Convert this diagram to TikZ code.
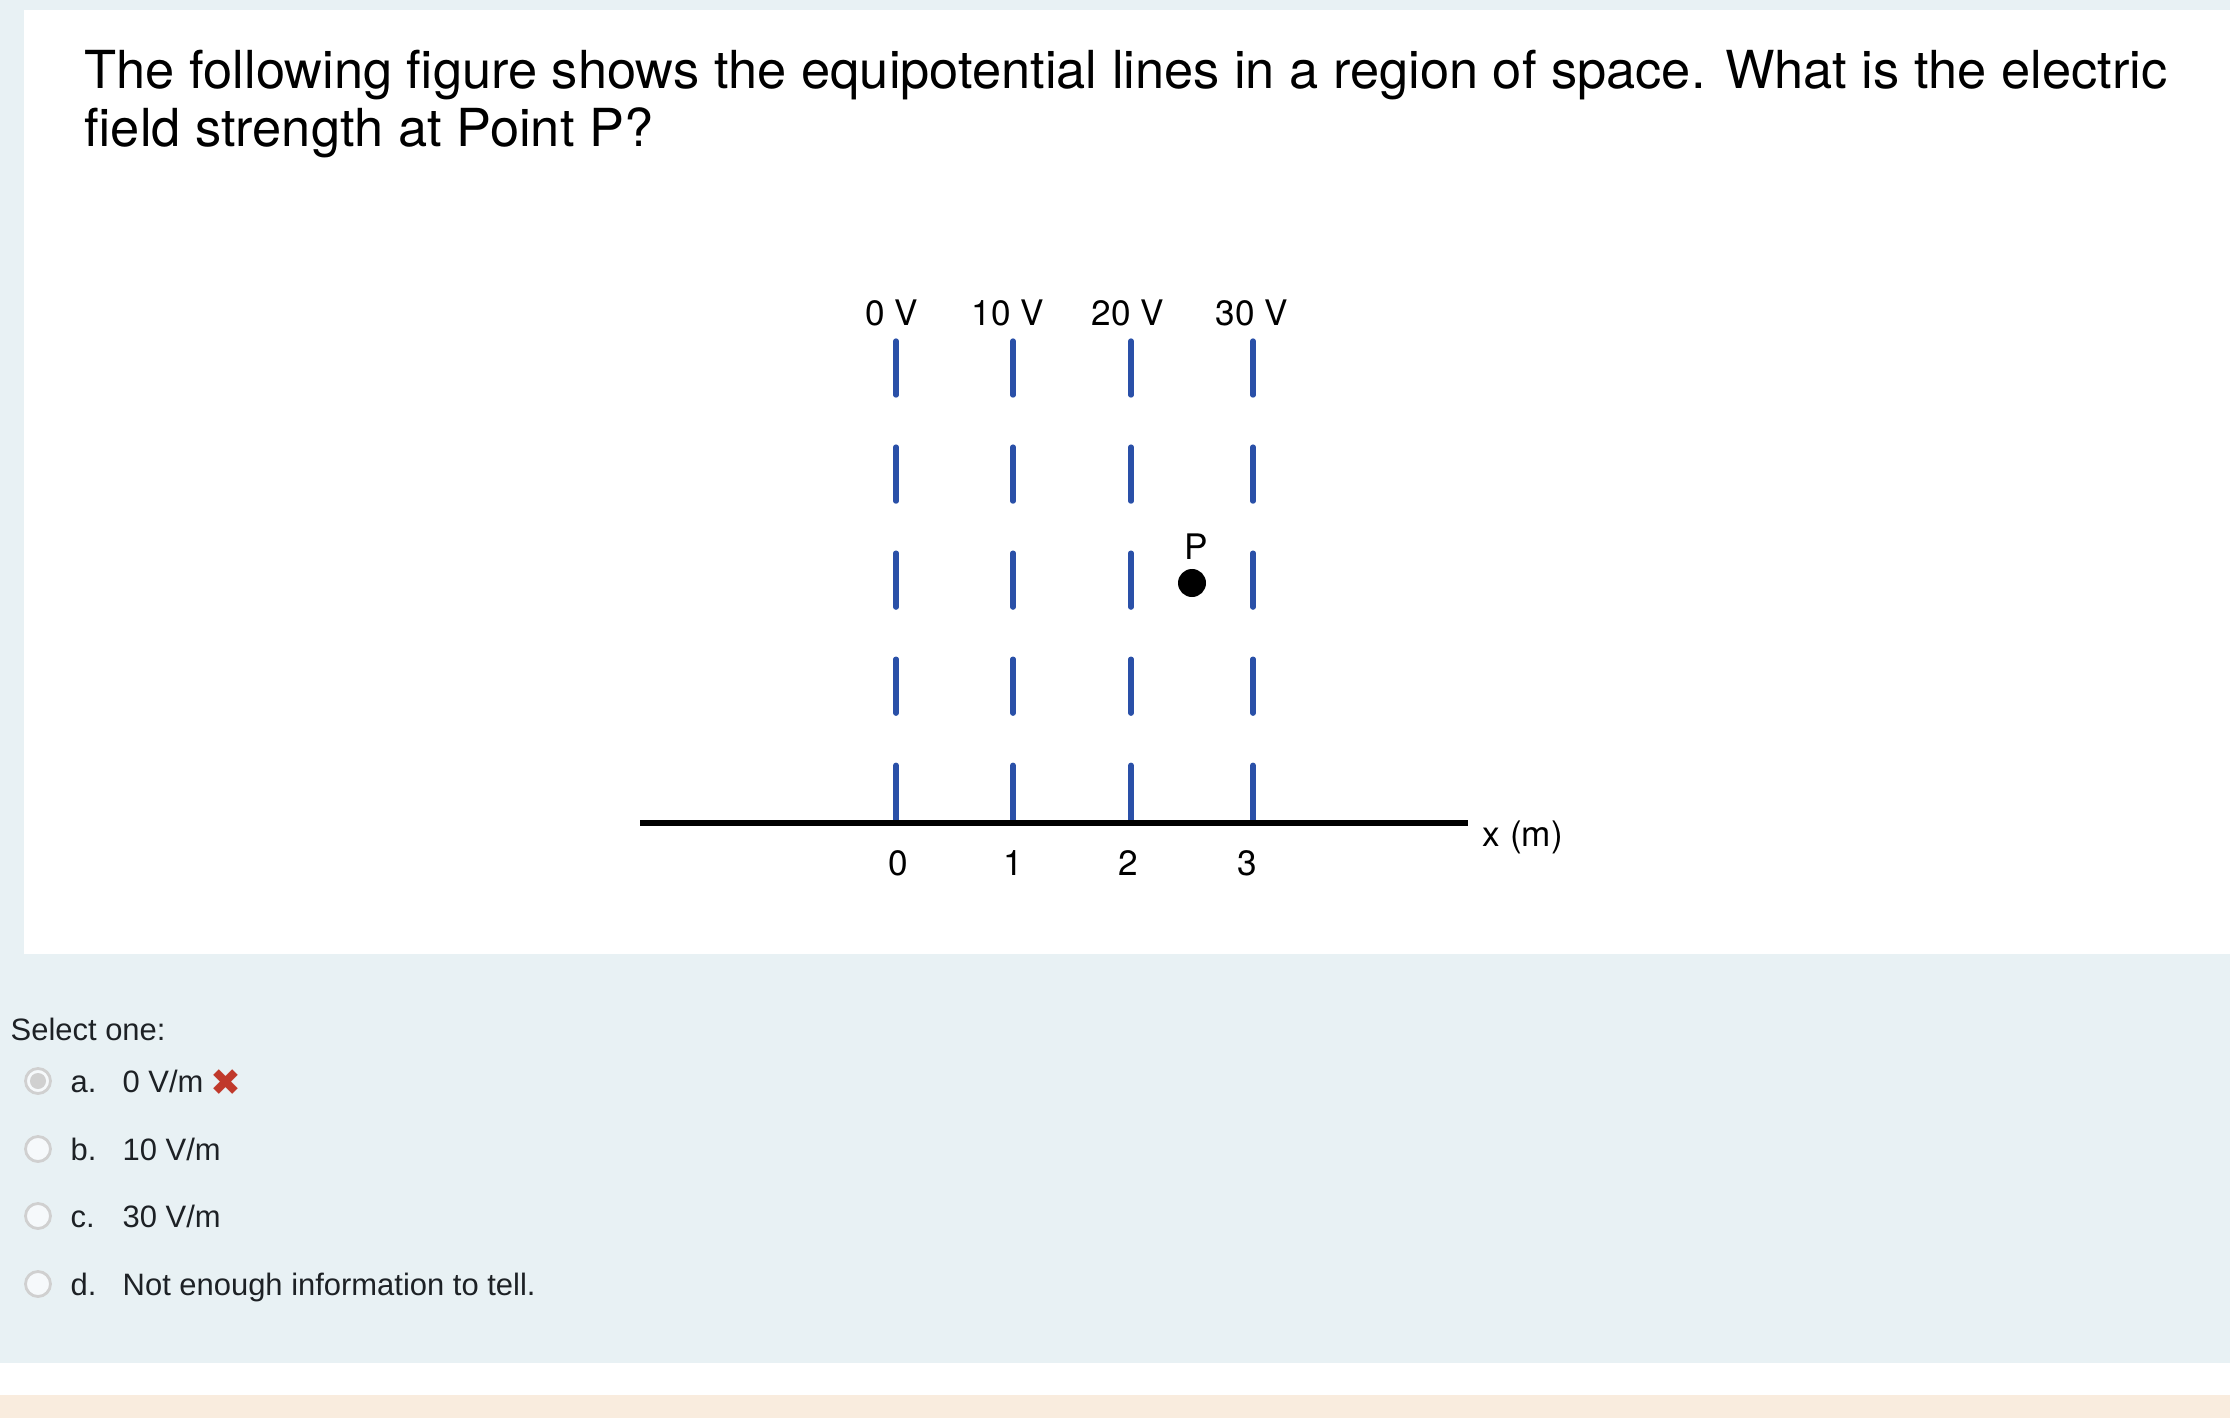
\documentclass[tikz,border=0pt]{standalone}
\usepackage{fontspec}
\setmainfont{TeX Gyre Heros}
\newfontfamily\uifont{Liberation Sans}
\newfontfamily\symfont{DejaVu Sans}
\usetikzlibrary{positioning}
\definecolor{pagebg}{RGB}{232,241,244}
\definecolor{equiblue}{RGB}{42,80,168}
\definecolor{peach}{RGB}{249,236,222}
\definecolor{wrongred}{RGB}{192,57,43}
\definecolor{radioring}{RGB}{208,208,208}
\definecolor{uitext}{RGB}{29,33,37}
\tikzstyle{equi} = [draw=equiblue, line width=1.5pt, line cap=round, dash pattern=on 0.54cm off 0.52cm]
\tikzstyle{vlabel} = [font=\fontsize{10}{12}\selectfont, inner sep=0pt]
\tikzstyle{qtext} = [font=\fontsize{14.9}{17}\selectfont, anchor=base west, inner sep=0pt]
\tikzstyle{radio} = [circle, draw=radioring, fill=white!60!pagebg, line width=0.8pt, minimum size=0.25cm, inner sep=0pt]
\tikzstyle{optxt} = [font=\uifont\fontsize{8.8}{10.5}\selectfont, text=uitext, anchor=base west, inner sep=0pt]

\begin{document}
\begin{tikzpicture}[x=0.01cm, y=-0.01cm]
  \useasboundingbox (0,0) rectangle (2230,1418);
  % page bands
  \fill[pagebg] (0,0) rectangle (2230,1363);
  \fill[white] (24,10) rectangle (2230,954);
  \fill[white] (0,1363) rectangle (2230,1395);
  \fill[peach] (0,1395) rectangle (2230,1418);

  % question
  \node[qtext] (q1) at (84,88) {The following figure shows the equipotential lines in a region of space. What is the electric};
  \node[qtext] (q2) at (84,146) {field strength at Point P?};

  % equipotentials
  \foreach \i/\x/\v/\lx/\nx in {0/896/0/892/898, 1/1013/10/1008/1013, 2/1131/20/1128/1128, 3/1253/30/1252/1247} {
    \node[vlabel] (v\i) at (\lx,313) {\v\ V};
    \coordinate (top\i) at (\x,341);
    \coordinate (foot\i) at (\x,823);
    \draw[equi] (top\i) -- (foot\i);
    \node[vlabel] (n\i) at (\nx,863) {\i};
  }
  \coordinate (axL) at (640,823);
  \coordinate (axR) at (1468,823);
  \draw[line width=1.45pt] (axL) -- (axR);
  \node[vlabel, right=0.14cm of axR, yshift=-0.14cm] (xm) {x (m)};

  \node[circle, fill=black, minimum size=0.28cm, inner sep=0pt] (P) at (1192,583) {};
  \node[vlabel, above=0.08cm of P, xshift=0.04cm] (Plab) {P};

  % answers
  \node[optxt] (sel) at (10,1040) {Select one:};
  \foreach \k/\l/\t/\y in {a/a./{0 V/m}/1081, b/b./{10 V/m}/1149, c/c./{30 V/m}/1216, d/d./{Not enough information to tell.}/1284} {
    \node[radio] (r\k) at (38,\y) {};
    \node[optxt] (l\k) at (70,\y+11) {\l};
    \node[optxt] (t\k) at (122,\y+11) {\t};
  }
  \fill[radioring] (ra) circle (0.08cm);
  \node[text=wrongred, font=\symfont\fontsize{10.5}{11}\selectfont, inner sep=0pt] (xa) at (226,1083) {✖};
\end{tikzpicture}
\end{document}
